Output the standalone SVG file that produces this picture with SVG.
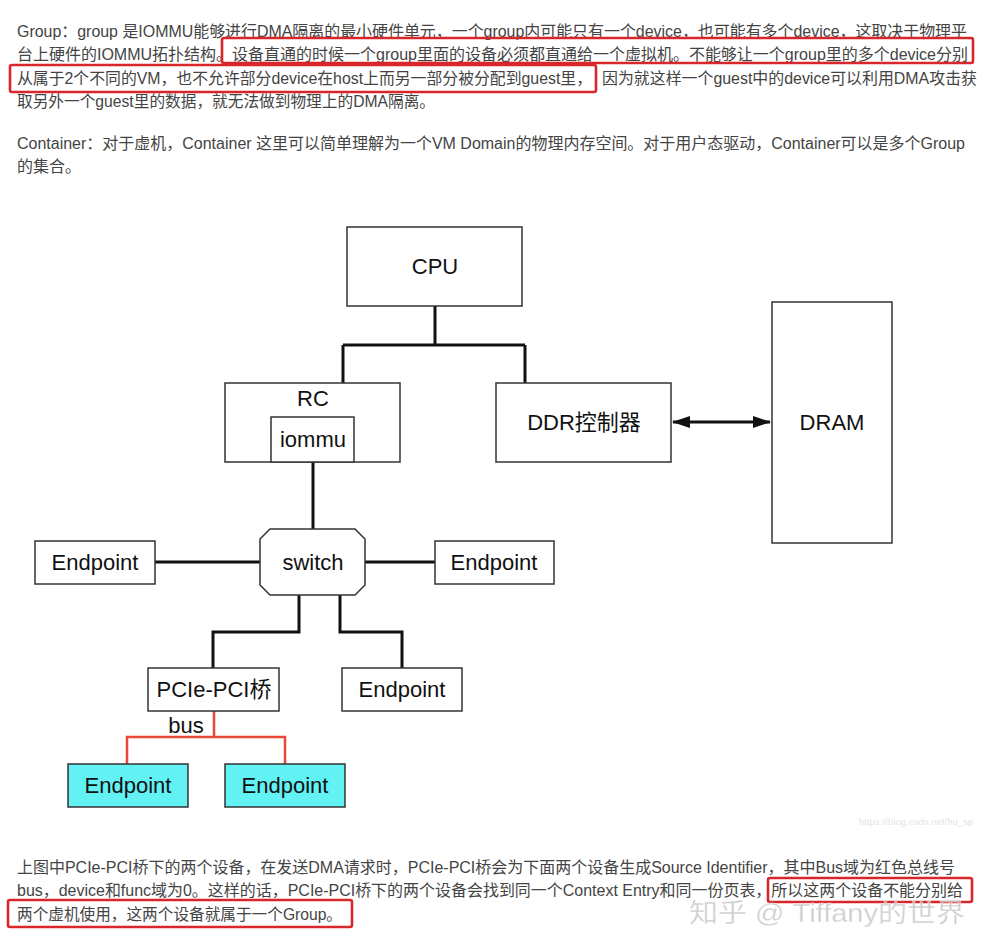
<svg xmlns="http://www.w3.org/2000/svg" width="991" height="949" viewBox="0 0 991 949">
<style>
.p{font-family:"Liberation Sans","Noto Sans CJK SC",sans-serif;font-size:16px;fill:#444}
.d{font-family:"Liberation Sans","Noto Sans CJK SC",sans-serif;font-size:22px;fill:#111;text-anchor:middle}
.box{fill:#fff;stroke:#333;stroke-width:1.5}
.cy{fill:#62F2F4;stroke:#333;stroke-width:1.5}
.ln{fill:none;stroke:#111;stroke-width:3}
.red{fill:none;stroke:#E84A35;stroke-width:2.5}
.hl{fill:none;stroke:#D9262B;stroke-width:2.6}
</style>
<defs>
<marker id="ah" viewBox="0 0 18 12" refX="17" refY="6" markerWidth="18" markerHeight="12" markerUnits="userSpaceOnUse" orient="auto-start-reverse">
<path d="M0,0 L18,6 L0,12 Z" fill="#111"/>
</marker>
</defs>
<rect width="991" height="949" fill="#fff"/>

<g id="para1">
<text class="p" x="17" y="37" textLength="950" lengthAdjust="spacingAndGlyphs">Group：group 是IOMMU能够进行DMA隔离的最小硬件单元，一个group内可能只有一个device，也可能有多个device，这取决于物理平</text>
<text class="p" x="17" y="60" textLength="951" lengthAdjust="spacingAndGlyphs">台上硬件的IOMMU拓扑结构。设备直通的时候一个group里面的设备必须都直通给一个虚拟机。不能够让一个group里的多个device分别</text>
<text class="p" x="17" y="84" textLength="575" lengthAdjust="spacingAndGlyphs">从属于2个不同的VM，也不允许部分device在host上而另一部分被分配到guest里，</text>
<text class="p" x="602" y="84" textLength="375" lengthAdjust="spacingAndGlyphs">因为就这样一个guest中的device可以利用DMA攻击获</text>
<text class="p" x="17" y="107" textLength="418" lengthAdjust="spacingAndGlyphs">取另外一个guest里的数据，就无法做到物理上的DMA隔离。</text>
<rect class="hl" x="222" y="38" width="751" height="25" rx="2"/>
<rect class="hl" x="10" y="65" width="586" height="27" rx="2"/>
</g>

<g id="para2">
<text class="p" x="17" y="149" textLength="948" lengthAdjust="spacingAndGlyphs">Container：对于虚机，Container 这里可以简单理解为一个VM Domain的物理内存空间。对于用户态驱动，Container可以是多个Group</text>
<text class="p" x="17" y="172" textLength="64" lengthAdjust="spacingAndGlyphs">的集合。</text>
</g>

<g id="connectors">
<path class="ln" d="M435,306 V345 M343,345 H525 M343,345 V383 M525,345 V383"/>
<path class="ln" d="M313,462 V529"/>
<path class="ln" d="M155,562 H260 M365,562 H435"/>
<path class="ln" d="M299,595 V632 H213 V668 M340,595 V632 H402 V668"/>
<path class="red" d="M214,711 V737 M127,764 V737 H285 V764"/>
<line class="ln" x1="673" y1="422" x2="770" y2="422" marker-start="url(#ah)" marker-end="url(#ah)"/>
</g>

<g id="cpu"><rect class="box" x="347" y="227" width="175" height="79"/><text class="d" x="435" y="274">CPU</text></g>
<g id="rc"><rect class="box" x="225" y="383" width="175" height="79"/><text class="d" x="313" y="406">RC</text></g>
<g id="iommu"><rect class="box" x="271" y="417" width="83" height="45"/><text class="d" x="313" y="447">iommu</text></g>
<g id="ddr"><rect class="box" x="496" y="383" width="175" height="79"/><text class="d" x="584" y="430">DDR控制器</text></g>
<g id="dram"><rect class="box" x="772" y="302" width="120" height="241"/><text class="d" x="832" y="430">DRAM</text></g>
<g id="switch"><path class="box" d="M270,529 H355 L365,539 V585 L355,595 H270 L260,585 V539 Z"/><text class="d" x="313" y="570">switch</text></g>
<g id="ep-left"><rect class="box" x="35" y="541" width="120" height="43"/><text class="d" x="95" y="570">Endpoint</text></g>
<g id="ep-right"><rect class="box" x="435" y="541" width="119" height="43"/><text class="d" x="494" y="570">Endpoint</text></g>
<g id="bridge"><rect class="box" x="148" y="668" width="131" height="43"/><text class="d" x="214" y="697">PCIe-PCI桥</text></g>
<g id="ep-mid"><rect class="box" x="342" y="668" width="120" height="43"/><text class="d" x="402" y="697">Endpoint</text></g>
<text class="d" x="186" y="733">bus</text>
<g id="ep-cyan1"><rect class="cy" x="68" y="764" width="120" height="43"/><text class="d" x="128" y="793">Endpoint</text></g>
<g id="ep-cyan2"><rect class="cy" x="225" y="764" width="120" height="43"/><text class="d" x="285" y="793">Endpoint</text></g>

<text x="859" y="825" font-family="Liberation Sans, sans-serif" font-size="9" fill="#e2e2e2" textLength="114">https://blog.csdn.net/hu_sp</text>

<g id="para3">
<text class="p" x="17" y="873" textLength="938" lengthAdjust="spacingAndGlyphs">上图中PCIe-PCI桥下的两个设备，在发送DMA请求时，PCIe-PCI桥会为下面两个设备生成Source Identifier，其中Bus域为红色总线号</text>
<text class="p" x="17" y="896" textLength="946" lengthAdjust="spacingAndGlyphs">bus，device和func域为0。这样的话，PCIe-PCI桥下的两个设备会找到同一个Context Entry和同一份页表，所以这两个设备不能分别给</text>
<text class="p" x="17" y="920" textLength="325" lengthAdjust="spacingAndGlyphs">两个虚机使用，这两个设备就属于一个Group。</text>
<rect class="hl" x="768" y="878" width="204" height="24" rx="2"/>
<rect class="hl" x="8" y="900" width="344" height="27" rx="2"/>
</g>

<text x="689" y="922" font-family="Liberation Sans, Noto Sans CJK SC, sans-serif" font-size="26" fill="#bdbdbd" fill-opacity="0.8" stroke="#fff" stroke-opacity="0.5" stroke-width="0.8" textLength="276" lengthAdjust="spacingAndGlyphs">知乎 @ Tiffany的世界</text>
</svg>
